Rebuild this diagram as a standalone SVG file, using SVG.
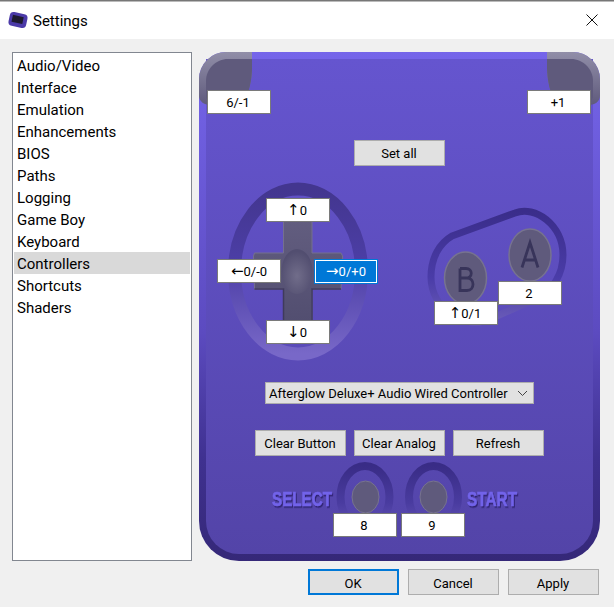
<svg xmlns="http://www.w3.org/2000/svg" width="614" height="607" viewBox="0 0 614 607">
<style>
text{font-family:Roboto,"Noto Sans","Liberation Sans",sans-serif;fill:#000}
.li{font-size:15px}
.t{font-size:13px;text-anchor:middle}
.ar{font-family:"DejaVu Sans",sans-serif;font-size:15px}
.inp{fill:#fff;stroke:#7a7a7a;stroke-width:1}
.btn{fill:#e1e1e1;stroke:#adadad;stroke-width:1}
.cap{font-family:"Liberation Sans",sans-serif;font-weight:bold;font-size:21px;fill:#7263ea;stroke:#7263ea;stroke-width:.6;text-anchor:middle;filter:url(#sh)}
.gl{fill:none;stroke:#38345a;stroke-width:2.800}
</style>
<defs>
<linearGradient id="body" x1="0" y1="0" x2="0" y2="1"><stop offset="0" stop-color="#6555cf"/><stop offset="1" stop-color="#5344a8"/></linearGradient>
<linearGradient id="rim" x1="0" y1="0" x2="0" y2="1"><stop offset="0" stop-color="#7565ea"/><stop offset=".55" stop-color="#5c4bc0"/><stop offset=".8" stop-color="#3f3190"/><stop offset="1" stop-color="#352878"/></linearGradient>
<linearGradient id="shoulder" x1="0" y1="0" x2="0" y2="1"><stop offset="0" stop-color="#918ea8"/><stop offset="1" stop-color="#5f5a7c"/></linearGradient>
<linearGradient id="ring" x1="0" y1="0" x2="0" y2="1"><stop offset="0" stop-color="#43368f"/><stop offset=".45" stop-color="#4c3ea6"/><stop offset="1" stop-color="#7868c8"/></linearGradient>
<linearGradient id="ring2" x1="0" y1="0" x2="0" y2="1"><stop offset="0" stop-color="#3a2d8a"/><stop offset=".6" stop-color="#4a3ca8"/><stop offset="1" stop-color="#6a5cb8"/></linearGradient>
<linearGradient id="ring3" x1="0" y1="0" x2="0" y2="1"><stop offset="0" stop-color="#392c86"/><stop offset=".6" stop-color="#4a3ca0"/><stop offset=".75" stop-color="#5344a8"/></linearGradient>
<linearGradient id="arm" x1="0" y1="0" x2="0" y2="1"><stop offset="0" stop-color="#625d7f"/><stop offset="1" stop-color="#524e70"/></linearGradient>
<radialGradient id="pivot" cx=".5" cy=".6" r=".55"><stop offset="0" stop-color="#716d8a"/><stop offset="1" stop-color="#524e70"/></radialGradient>
<filter id="sh" x="-10%" y="-20%" width="120%" height="150%"><feDropShadow dx="1" dy="1.500" stdDeviation=".5" flood-color="#2f2470"/></filter>
</defs>
<rect width="614" height="607" fill="#f0f0f0"/>
<g id="titlebar">
<rect width="614" height="39" fill="#fff"/>
<rect width="614" height="1.500" fill="#777"/>
<g id="app-icon"><rect x="9" y="13" width="18" height="14" rx="4" fill="#4b3aa8" transform="rotate(12 18 20)"/><rect x="12" y="16" width="11" height="7" fill="#1d1a30" transform="rotate(12 18 20)"/></g>
<text x="33" y="26" font-size="15">Settings</text>
<path d="M586.500 14.500l11 11M597.500 14.500l-11 11" stroke="#111" stroke-width="1" fill="none"/>
</g>
<g id="sidebar">
<rect x="12.500" y="52.500" width="179" height="508" fill="#fff" stroke="#828790"/>
<rect x="14" y="252" width="176" height="22" fill="#d9d9d9"/>
<text class="li" x="17" y="71">Audio/Video</text>
<text class="li" x="17" y="93">Interface</text>
<text class="li" x="17" y="115">Emulation</text>
<text class="li" x="17" y="137">Enhancements</text>
<text class="li" x="17" y="159">BIOS</text>
<text class="li" x="17" y="181">Paths</text>
<text class="li" x="17" y="203">Logging</text>
<text class="li" x="17" y="225">Game Boy</text>
<text class="li" x="17" y="247">Keyboard</text>
<text class="li" x="17" y="269">Controllers</text>
<text class="li" x="17" y="291">Shortcuts</text>
<text class="li" x="17" y="313">Shaders</text>
</g>
<g id="controller">
<path d="M226 52H573a27 27 0 0 1 27 27V521a40 40 0 0 1-40 40H239a40 40 0 0 1-40-40V79a27 27 0 0 1 27-27z" fill="url(#rim)"/>
<path d="M206 59H593V521a33 33 0 0 1-33 33H239a33 33 0 0 1-33-33z" fill="url(#body)"/>
<path d="M199 96V79a27 27 0 0 1 27-27h26v16c0 12-3 24-9 37h-33c-6 0-11-4-11-9z" fill="url(#shoulder)"/>
<path d="M206 96V81c0-12 10-22 22-22h24v9c0 12-3 24-9 37h-26c-6 0-11-4-11-9z" fill="#5f5a7c"/>
<path d="M600 96V79a27 27 0 0 0-27-27h-26v16c0 12 3 24 9 37h33c6 0 11-4 11-9z" fill="url(#shoulder)"/>
<path d="M593 96V81c0-12-10-22-22-22h-24v9c0 12 3 24 9 37h26c6 0 11-4 11-9z" fill="#5f5a7c"/>
<g id="dpad">
<ellipse cx="298" cy="271.500" rx="63.500" ry="82.500" fill="none" stroke="url(#ring)" stroke-width="13"/>
<path d="M283.500 221h28.500v32h29l1.500 3-1.500 33h-29v32h-28.500v-32h-29l-1-33 1-3h29z" fill="url(#arm)" stroke="#74708e" stroke-width="1"/>
<path d="M254.500 289h29v32M312 321v-32h29" fill="none" stroke="#3f3a5c" stroke-width="1.500"/>
<ellipse cx="297" cy="271.500" rx="15.500" ry="22.500" fill="url(#pivot)"/>
</g>
<g id="ab-buttons">
<path d="M452 236L515 213C535 205 563 225 563 255C563 275 552 290 540 297L490 319C465 330 431 310 431 277C431 257 440 243 452 236z" fill="none" stroke="url(#ring2)" stroke-width="7"/>
<ellipse cx="465.500" cy="278" rx="21" ry="26" fill="#5f5a7c" stroke="#77738f" stroke-width="1.500"/>
<ellipse cx="530" cy="255" rx="21" ry="26" fill="#5f5a7c" stroke="#77738f" stroke-width="1.500"/>
<path class="gl" d="M460 268.500v22h7c8 0 8-12.500 0-12.500h-7m0 0h6c7 0 7-9.500 0-9.500h-6"/>
<path class="gl" d="M522 267.500l8-25 8 25M525 260h10"/>
</g>
<g id="select-start">
<ellipse cx="365" cy="497" rx="24.500" ry="31" fill="none" stroke="url(#ring3)" stroke-width="8"/>
<ellipse cx="433.500" cy="497" rx="24.500" ry="31" fill="none" stroke="url(#ring3)" stroke-width="8"/>
<ellipse cx="365.500" cy="497" rx="13.500" ry="16" fill="#5f5a7c" stroke="#77738f"/>
<ellipse cx="433.500" cy="497" rx="13.500" ry="16" fill="#5f5a7c" stroke="#77738f"/>
<text class="cap" x="302" y="506" textLength="60" lengthAdjust="spacingAndGlyphs">SELECT</text>
<text class="cap" x="492" y="506" textLength="50" lengthAdjust="spacingAndGlyphs">START</text>
</g>
</g>
<g id="field-l"><rect class="inp" x="207.500" y="90.500" width="63" height="23"/><text class="t" x="238" y="107">6/-1</text></g>
<g id="field-r"><rect class="inp" x="527.500" y="90.500" width="63" height="23"/><text class="t" x="558" y="107">+1</text></g>
<g id="set-all"><rect class="btn" x="354.500" y="140.500" width="90" height="25"/><text class="t" x="399" y="157.500">Set all</text></g>
<g id="field-up"><rect class="inp" x="266.500" y="198.500" width="63" height="23"/><text class="t" x="297" y="215"><tspan class="ar">↑</tspan>0</text></g>
<g id="field-left"><rect class="inp" x="217.500" y="259.500" width="63" height="23"/><text class="t" x="249" y="276"><tspan class="ar">←</tspan>0/-0</text></g>
<g id="field-right"><rect x="315.500" y="260.500" width="61" height="22" fill="#0078d7" stroke="#fff"/><rect x="314.500" y="259.500" width="63" height="24" fill="none" stroke="#0078d7"/><text class="t" x="346" y="276" style="fill:#fff"><tspan class="ar" style="fill:#fff">→</tspan>0/+0</text></g>
<g id="field-down"><rect class="inp" x="266.500" y="320.500" width="63" height="23"/><text class="t" x="297" y="337"><tspan class="ar">↓</tspan>0</text></g>
<g id="field-b"><rect class="inp" x="434.500" y="301.500" width="63" height="23"/><text class="t" x="465" y="318"><tspan class="ar">↑</tspan>0/1</text></g>
<g id="field-a"><rect class="inp" x="498.500" y="281.500" width="63" height="23"/><text class="t" x="529" y="298">2</text></g>
<g id="combo"><rect class="btn" x="265.500" y="382.500" width="268" height="21"/><text x="269" y="398" font-size="13">Afterglow Deluxe+ Audio Wired Controller</text><path d="M518 391l4.500 4.500 4.500-4.500" fill="none" stroke="#444"/></g>
<g id="clear-button"><rect class="btn" x="255.500" y="430.500" width="90" height="25"/><text class="t" x="300" y="448">Clear Button</text></g>
<g id="clear-analog"><rect class="btn" x="354.500" y="430.500" width="90" height="25"/><text class="t" x="399" y="448">Clear Analog</text></g>
<g id="refresh"><rect class="btn" x="453.500" y="430.500" width="90" height="25"/><text class="t" x="498" y="448">Refresh</text></g>
<g id="field-select"><rect class="inp" x="333.500" y="513.500" width="63" height="23"/><text class="t" x="364" y="530">8</text></g>
<g id="field-start"><rect class="inp" x="401.500" y="513.500" width="63" height="23"/><text class="t" x="432" y="530">9</text></g>
<g id="ok"><rect x="309" y="570" width="89" height="24" fill="#e1e1e1" stroke="#0078d7" stroke-width="2"/><text class="t" x="353" y="587.500">OK</text></g>
<g id="cancel"><rect class="btn" x="408.500" y="569.500" width="90" height="25"/><text class="t" x="453" y="587.500">Cancel</text></g>
<g id="apply"><rect class="btn" x="508.500" y="569.500" width="90" height="25"/><text class="t" x="553" y="587.500">Apply</text></g>
</svg>
